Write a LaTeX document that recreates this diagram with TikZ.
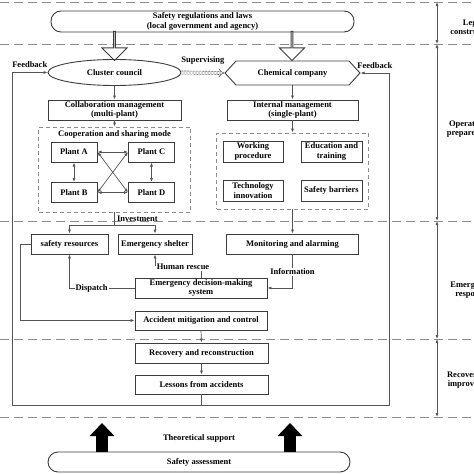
\documentclass[tikz,border=0pt]{standalone}
\usepackage{fontspec}
\setmainfont{Liberation Serif}
\usetikzlibrary{arrows.meta,shapes.geometric,shapes.symbols,shapes.arrows}

\definecolor{boxgray}{HTML}{3C3C3C}
\definecolor{linegray}{HTML}{555555}
\definecolor{sepgray}{HTML}{8C8C8C}

\tikzset{
  box/.style={draw=boxgray, line width=0.9pt, fill=white, minimum height=20pt, align=center, inner sep=1pt},
  plantbox/.style={box, line width=1pt, minimum width=46pt},
  conn/.style={draw=linegray, line width=0.7pt, -{Latex[length=4pt,width=3pt]}},
  twoway/.style={draw=linegray, line width=0.7pt, {Latex[length=4pt,width=3pt]}-{Latex[length=4pt,width=3pt]}},
  sepline/.style={sepgray, line width=0.9pt, dash pattern=on 9pt off 5pt},
  groupbox/.style={draw=sepgray, line width=0.8pt, dash pattern=on 4pt off 3pt},
  hollowarrow/.style={single arrow, draw=boxgray, line width=0.9pt, fill=white, shape border rotate=270,
    minimum height=29pt, minimum width=25pt, single arrow head extend=6pt, inner sep=0pt},
  bigarrow/.style={line width=12pt, -{Triangle[length=13pt,width=24pt]}},
  tag/.style={text=black, fill=white, inner sep=1pt},
  phase/.style={align=center},
}

\begin{document}
\begin{tikzpicture}[x=1pt, y=-1pt, font=\fontsize{8.5}{9.5}\selectfont\bfseries]
\useasboundingbox (0,0) rectangle (474,474);

	%% Phasen
	\foreach \y in {2,44,221,339,417}
		\draw[sepline] (0,\y) -- (474,\y);
	\foreach \a/\b in {2/44,44/221,221/339,339/417}
		\draw[twoway] (437,\a) -- (437,\b);
	\node[phase] (legal) at (473,27) {Legal\\construction};
	\node[phase] (operation) at (471,129) {Operational\\preparedness};
	\node[phase] (emergency) at (471,290) {Emergency\\response};
	\node[phase] (recover) at (472,380) {Recovery and\\improvement};

	%% Gesetze
	\node[box, rounded corners=10pt, minimum width=303pt, minimum height=21pt] (law) at (202.5,21.5)
		{Safety regulations and laws\\(local government and agency)};
	\node[hollowarrow] (downL) at (114.5,45.5) {};
	\node[hollowarrow] (downR) at (292,45.5) {};

	\node[ellipse, draw=boxgray, line width=0.9pt, minimum width=133pt, minimum height=26pt, inner sep=0pt]
		(council) at (114.5,72.5) {Cluster council};
	\node[signal, signal to=east and west, signal pointer angle=95, draw=boxgray, line width=0.9pt,
		minimum width=135pt, minimum height=24pt, inner sep=0pt] (company) at (292.5,73) {Chemical company};
	\draw[linegray, line width=0.6pt, double, double distance=2.5pt, dash pattern=on 2pt off 1pt, -Implies]
		(council.east) -- (company.west) node[midway, above=5pt, text=black] {Supervising};

	%% Betrieb
	\node[box, minimum width=133pt] (collab) at (114.5,110) {Collaboration management\\(multi-plant)};
	\node[box, minimum width=131pt] (internal) at (292.5,110) {Internal management\\(single-plant)};
	\draw[conn] (council.south) -- (collab.north);
	\draw[conn] (company.south) -- (internal.north);

	\node[groupbox, minimum width=152pt, minimum height=85pt] (coop) at (114.5,169.5) {};
	\node (cooptitle) at (114.5,134) {Cooperation and sharing mode};
	\node[plantbox] (plantA) at (74,152) {Plant A};
	\node[plantbox] (plantC) at (151.5,152) {Plant C};
	\node[plantbox] (plantB) at (74,192.5) {Plant B};
	\node[plantbox] (plantD) at (151.5,192.5) {Plant D};
	\draw[twoway] (plantA) -- (plantB);
	\draw[twoway] (plantC) -- (plantD);
	\draw[twoway] (plantA) -- (plantC);
	\draw[twoway] (plantB) -- (plantD);
	\draw[twoway] (plantA.east) -- (plantD.west);
	\draw[twoway] (plantB.east) -- (plantC.west);
	\draw[conn] (collab.south) -- (coop.north);

	\node[groupbox, minimum width=152pt, minimum height=76pt] (inst) at (292.5,171) {};
	\node[plantbox, minimum width=60pt, minimum height=21pt] (work) at (253,151.5) {Working\\procedure};
	\node[plantbox, minimum width=61pt, minimum height=21pt] (edu) at (331.5,151.5) {Education and\\training};
	\node[plantbox, minimum width=60pt, minimum height=21pt] (tech) at (253,190.5) {Technology\\innovation};
	\node[plantbox, minimum width=61pt, minimum height=21pt] (barrier) at (331.5,190.5) {Safety barriers};
	\draw[conn] (internal.south) -- (inst.north);

	%% Notfall
	\node[box, minimum width=77pt] (resources) at (69.5,244) {safety resources};
	\node[box, minimum width=74pt] (shelter) at (155,244) {Emergency shelter};
	\node[box, minimum width=132pt] (monitor) at (292.5,244) {Monitoring and alarming};
	\node[box, minimum width=132pt] (decision) at (201,288) {Emergency decision-making\\system};
	\node[box, minimum width=132pt, minimum height=19pt] (accident) at (201,320.5) {Accident mitigation and control};

	\coordinate (invest) at (114.5,225);
	\draw[linegray, line width=0.7pt] (coop.south) -- (invest) node[midway, right=-1pt, text=black] {Investment};
	\draw[conn] (invest) -| (resources.north);
	\draw[conn] (invest) -| (shelter.north);
	\draw[conn] (inst.south) -- (monitor.north);

	\coordinate (rescue) at (180,265);
	\draw[conn] (decision.north) -- (decision.north |- rescue) -| (shelter.south);
	\node[tag] (rescuelabel) at (183,267) {Human rescue};
	\draw[conn] (monitor.south) |- (decision.east) node[pos=0.26, tag] {Information};
	\draw[conn] (decision.west) -| (resources.south) node[pos=0.33, tag] {Dispatch};
	\draw[conn] (resources.west) -- ++(-10,0) |- (accident.west);

	%% Wiederherstellung
	\node[box, minimum width=133pt] (recovery) at (201.5,353) {Recovery and reconstruction};
	\node[box, minimum width=133pt, minimum height=19pt] (lessons) at (201.5,384.5) {Lessons from accidents};
	\draw[conn] (accident.south) -- (recovery.north);
	\draw[conn] (recovery.south) -- (lessons.north);

	\coordinate (fbl) at (12,405);
	\coordinate (fbr) at (389,405);
	\draw[conn] (lessons.south) |- (fbl) |- (council.west) node[pos=0.75, above=1pt, text=black] {Feedback};
	\draw[conn] (lessons.south) |- (fbr) |- (company.east) node[pos=0.75, above=1pt, text=black] {Feedback};

	%% Bewertung
	\node[box, rounded corners=10pt, minimum width=302pt] (assess) at (199,462) {Safety assessment};
	\node (theory) at (199,438) {Theoretical support};
	\coordinate (tipL) at (102,423);
	\coordinate (tipR) at (290,423);
	\draw[bigarrow] (tipL |- assess.north) -- (tipL);
	\draw[bigarrow] (tipR |- assess.north) -- (tipR);

\end{tikzpicture}
\end{document}
